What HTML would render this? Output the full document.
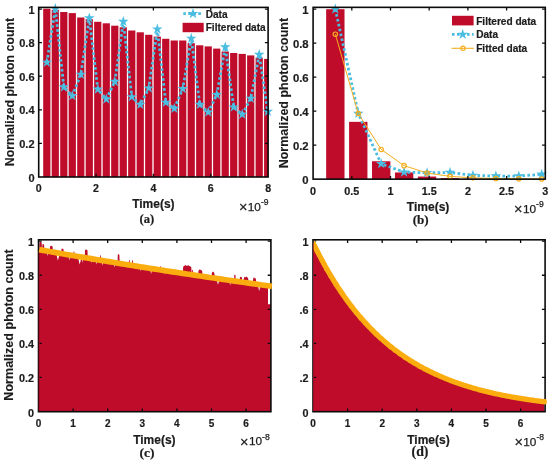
<!DOCTYPE html>
<html lang="en"><head><meta charset="utf-8"><title>Figure</title>
<style>html,body{margin:0;padding:0;background:#fff;}svg{display:block;}</style></head><body>
<svg width="550" height="461" viewBox="0 0 550 461">
<rect width="550" height="461" fill="#ffffff"/>
<clipPath id="ca"><rect x="38.7" y="7.4" width="229.40" height="169.60"/></clipPath>
<g clip-path="url(#ca)">
<rect x="43.19" y="8.70" width="7.22" height="168.30" fill="#BF0C2B"/>
<rect x="51.68" y="9.80" width="7.22" height="167.20" fill="#BF0C2B"/>
<rect x="60.18" y="12.00" width="7.22" height="165.00" fill="#BF0C2B"/>
<rect x="68.67" y="13.10" width="7.22" height="163.90" fill="#BF0C2B"/>
<rect x="77.17" y="17.50" width="7.22" height="159.50" fill="#BF0C2B"/>
<rect x="85.67" y="19.20" width="7.22" height="157.80" fill="#BF0C2B"/>
<rect x="94.16" y="21.80" width="7.22" height="155.20" fill="#BF0C2B"/>
<rect x="102.66" y="23.30" width="7.22" height="153.70" fill="#BF0C2B"/>
<rect x="111.16" y="25.70" width="7.22" height="151.30" fill="#BF0C2B"/>
<rect x="119.65" y="27.30" width="7.22" height="149.70" fill="#BF0C2B"/>
<rect x="128.15" y="30.50" width="7.22" height="146.50" fill="#BF0C2B"/>
<rect x="136.64" y="32.30" width="7.22" height="144.70" fill="#BF0C2B"/>
<rect x="145.14" y="34.80" width="7.22" height="142.20" fill="#BF0C2B"/>
<rect x="153.64" y="36.60" width="7.22" height="140.40" fill="#BF0C2B"/>
<rect x="162.13" y="38.80" width="7.22" height="138.20" fill="#BF0C2B"/>
<rect x="170.63" y="40.50" width="7.22" height="136.50" fill="#BF0C2B"/>
<rect x="179.13" y="40.50" width="7.22" height="136.50" fill="#BF0C2B"/>
<rect x="187.62" y="43.20" width="7.22" height="133.80" fill="#BF0C2B"/>
<rect x="196.12" y="45.30" width="7.22" height="131.70" fill="#BF0C2B"/>
<rect x="204.62" y="46.40" width="7.22" height="130.60" fill="#BF0C2B"/>
<rect x="213.11" y="48.60" width="7.22" height="128.40" fill="#BF0C2B"/>
<rect x="221.61" y="51.50" width="7.22" height="125.50" fill="#BF0C2B"/>
<rect x="230.10" y="53.00" width="7.22" height="124.00" fill="#BF0C2B"/>
<rect x="238.60" y="53.90" width="7.22" height="123.10" fill="#BF0C2B"/>
<rect x="247.10" y="55.40" width="7.22" height="121.60" fill="#BF0C2B"/>
<rect x="255.59" y="57.60" width="7.22" height="119.40" fill="#BF0C2B"/>
<rect x="264.09" y="58.90" width="7.22" height="118.10" fill="#BF0C2B"/>
</g>
<polyline points="46.85,62.40 55.34,8.70 63.84,87.10 72.34,95.80 80.83,74.40 89.33,18.00 97.82,89.30 106.32,99.10 114.82,81.60 123.31,21.50 131.81,96.90 140.31,104.50 148.80,88.20 157.30,29.20 165.79,102.40 174.29,108.50 182.79,88.80 191.28,38.40 199.78,104.50 208.28,112.20 216.77,94.70 225.27,47.10 233.76,107.20 242.26,114.40 250.76,98.40 259.25,54.60 267.75,111.50" fill="none" stroke="#4ABDE0" stroke-width="2.8" stroke-dasharray="2.6 2.4"/>
<path d="M46.85,56.80 L48.10,60.67 L52.17,60.67 L48.88,63.06 L50.14,66.93 L46.85,64.54 L43.55,66.93 L44.81,63.06 L41.52,60.67 L45.59,60.67ZM55.34,3.10 L56.60,6.97 L60.67,6.97 L57.38,9.36 L58.63,13.23 L55.34,10.84 L52.05,13.23 L53.31,9.36 L50.02,6.97 L54.09,6.97ZM63.84,81.50 L65.10,85.37 L69.16,85.37 L65.87,87.76 L67.13,91.63 L63.84,89.24 L60.55,91.63 L61.80,87.76 L58.51,85.37 L62.58,85.37ZM72.34,90.20 L73.59,94.07 L77.66,94.07 L74.37,96.46 L75.63,100.33 L72.34,97.94 L69.04,100.33 L70.30,96.46 L67.01,94.07 L71.08,94.07ZM80.83,68.80 L82.09,72.67 L86.16,72.67 L82.87,75.06 L84.12,78.93 L80.83,76.54 L77.54,78.93 L78.80,75.06 L75.51,72.67 L79.57,72.67ZM89.33,12.40 L90.59,16.27 L94.65,16.27 L91.36,18.66 L92.62,22.53 L89.33,20.14 L86.04,22.53 L87.29,18.66 L84.00,16.27 L88.07,16.27ZM97.82,83.70 L99.08,87.57 L103.15,87.57 L99.86,89.96 L101.12,93.83 L97.82,91.44 L94.53,93.83 L95.79,89.96 L92.50,87.57 L96.57,87.57ZM106.32,93.50 L107.58,97.37 L111.65,97.37 L108.35,99.76 L109.61,103.63 L106.32,101.24 L103.03,103.63 L104.29,99.76 L100.99,97.37 L105.06,97.37ZM114.82,76.00 L116.07,79.87 L120.14,79.87 L116.85,82.26 L118.11,86.13 L114.82,83.74 L111.53,86.13 L112.78,82.26 L109.49,79.87 L113.56,79.87ZM123.31,15.90 L124.57,19.77 L128.64,19.77 L125.35,22.16 L126.60,26.03 L123.31,23.64 L120.02,26.03 L121.28,22.16 L117.99,19.77 L122.06,19.77ZM131.81,91.30 L133.07,95.17 L137.14,95.17 L133.84,97.56 L135.10,101.43 L131.81,99.04 L128.52,101.43 L129.77,97.56 L126.48,95.17 L130.55,95.17ZM140.31,98.90 L141.56,102.77 L145.63,102.77 L142.34,105.16 L143.60,109.03 L140.31,106.64 L137.01,109.03 L138.27,105.16 L134.98,102.77 L139.05,102.77ZM148.80,82.60 L150.06,86.47 L154.13,86.47 L150.84,88.86 L152.09,92.73 L148.80,90.34 L145.51,92.73 L146.77,88.86 L143.48,86.47 L147.54,86.47ZM157.30,23.60 L158.56,27.47 L162.62,27.47 L159.33,29.86 L160.59,33.73 L157.30,31.34 L154.01,33.73 L155.26,29.86 L151.97,27.47 L156.04,27.47ZM165.79,96.80 L167.05,100.67 L171.12,100.67 L167.83,103.06 L169.09,106.93 L165.79,104.54 L162.50,106.93 L163.76,103.06 L160.47,100.67 L164.54,100.67ZM174.29,102.90 L175.55,106.77 L179.62,106.77 L176.33,109.16 L177.58,113.03 L174.29,110.64 L171.00,113.03 L172.26,109.16 L168.96,106.77 L173.03,106.77ZM182.79,83.20 L184.04,87.07 L188.11,87.07 L184.82,89.46 L186.08,93.33 L182.79,90.94 L179.50,93.33 L180.75,89.46 L177.46,87.07 L181.53,87.07ZM191.28,32.80 L192.54,36.67 L196.61,36.67 L193.32,39.06 L194.57,42.93 L191.28,40.54 L187.99,42.93 L189.25,39.06 L185.96,36.67 L190.03,36.67ZM199.78,98.90 L201.04,102.77 L205.11,102.77 L201.81,105.16 L203.07,109.03 L199.78,106.64 L196.49,109.03 L197.75,105.16 L194.45,102.77 L198.52,102.77ZM208.28,106.60 L209.53,110.47 L213.60,110.47 L210.31,112.86 L211.57,116.73 L208.28,114.34 L204.98,116.73 L206.24,112.86 L202.95,110.47 L207.02,110.47ZM216.77,89.10 L218.03,92.97 L222.10,92.97 L218.81,95.36 L220.06,99.23 L216.77,96.84 L213.48,99.23 L214.74,95.36 L211.45,92.97 L215.51,92.97ZM225.27,41.50 L226.53,45.37 L230.59,45.37 L227.30,47.76 L228.56,51.63 L225.27,49.24 L221.98,51.63 L223.23,47.76 L219.94,45.37 L224.01,45.37ZM233.76,101.60 L235.02,105.47 L239.09,105.47 L235.80,107.86 L237.06,111.73 L233.76,109.34 L230.47,111.73 L231.73,107.86 L228.44,105.47 L232.51,105.47ZM242.26,108.80 L243.52,112.67 L247.59,112.67 L244.30,115.06 L245.55,118.93 L242.26,116.54 L238.97,118.93 L240.23,115.06 L236.94,112.67 L241.00,112.67ZM250.76,92.80 L252.01,96.67 L256.08,96.67 L252.79,99.06 L254.05,102.93 L250.76,100.54 L247.47,102.93 L248.72,99.06 L245.43,96.67 L249.50,96.67ZM259.25,49.00 L260.51,52.87 L264.58,52.87 L261.29,55.26 L262.55,59.13 L259.25,56.74 L255.96,59.13 L257.22,55.26 L253.93,52.87 L258.00,52.87ZM267.75,105.90 L269.01,109.77 L273.08,109.77 L269.78,112.16 L271.04,116.03 L267.75,113.64 L264.46,116.03 L265.72,112.16 L262.42,109.77 L266.49,109.77Z" fill="#4ABDE0"/>
<rect x="38.7" y="7.4" width="229.40" height="169.60" fill="none" stroke="#0a0a0a" stroke-width="1.6"/>
<path d="M96.05,177.0v-3.2M96.05,7.4v3.2M153.40,177.0v-3.2M153.40,7.4v3.2M210.75,177.0v-3.2M210.75,7.4v3.2M38.7,143.34h3.2M268.1,143.34h-3.2M38.7,109.78h3.2M268.1,109.78h-3.2M38.7,76.22h3.2M268.1,76.22h-3.2M38.7,42.66h3.2M268.1,42.66h-3.2M38.7,9.10h3.2M268.1,9.10h-3.2" stroke="#0a0a0a" stroke-width="1.3" fill="none"/>
<text x="34.50" y="181.50" font-family='"Liberation Sans", Arial, Helvetica, sans-serif' font-size="11" font-weight="bold" text-anchor="end" fill="#1c1c1c" stroke="#1c1c1c" stroke-width="0.2" >0</text>
<text x="34.50" y="147.94" font-family='"Liberation Sans", Arial, Helvetica, sans-serif' font-size="11" font-weight="bold" text-anchor="end" fill="#1c1c1c" stroke="#1c1c1c" stroke-width="0.2" >0.2</text>
<text x="34.50" y="114.38" font-family='"Liberation Sans", Arial, Helvetica, sans-serif' font-size="11" font-weight="bold" text-anchor="end" fill="#1c1c1c" stroke="#1c1c1c" stroke-width="0.2" >0.4</text>
<text x="34.50" y="80.82" font-family='"Liberation Sans", Arial, Helvetica, sans-serif' font-size="11" font-weight="bold" text-anchor="end" fill="#1c1c1c" stroke="#1c1c1c" stroke-width="0.2" >0.6</text>
<text x="34.50" y="47.26" font-family='"Liberation Sans", Arial, Helvetica, sans-serif' font-size="11" font-weight="bold" text-anchor="end" fill="#1c1c1c" stroke="#1c1c1c" stroke-width="0.2" >0.8</text>
<text x="34.50" y="13.70" font-family='"Liberation Sans", Arial, Helvetica, sans-serif' font-size="11" font-weight="bold" text-anchor="end" fill="#1c1c1c" stroke="#1c1c1c" stroke-width="0.2" >1</text>
<text x="38.70" y="192.30" font-family='"Liberation Sans", Arial, Helvetica, sans-serif' font-size="10.6" font-weight="bold" text-anchor="middle" fill="#1c1c1c" stroke="#1c1c1c" stroke-width="0.2" >0</text>
<text x="96.05" y="192.30" font-family='"Liberation Sans", Arial, Helvetica, sans-serif' font-size="10.6" font-weight="bold" text-anchor="middle" fill="#1c1c1c" stroke="#1c1c1c" stroke-width="0.2" >2</text>
<text x="153.40" y="192.30" font-family='"Liberation Sans", Arial, Helvetica, sans-serif' font-size="10.6" font-weight="bold" text-anchor="middle" fill="#1c1c1c" stroke="#1c1c1c" stroke-width="0.2" >4</text>
<text x="210.75" y="192.30" font-family='"Liberation Sans", Arial, Helvetica, sans-serif' font-size="10.6" font-weight="bold" text-anchor="middle" fill="#1c1c1c" stroke="#1c1c1c" stroke-width="0.2" >6</text>
<text x="268.10" y="192.30" font-family='"Liberation Sans", Arial, Helvetica, sans-serif' font-size="10.6" font-weight="bold" text-anchor="middle" fill="#1c1c1c" stroke="#1c1c1c" stroke-width="0.2" >8</text>
<text x="153.40" y="208.20" font-family='"Liberation Sans", Arial, Helvetica, sans-serif' font-size="12" font-weight="bold" text-anchor="middle" fill="#1c1c1c" stroke="#1c1c1c" stroke-width="0.2" >Time(s)</text>
<text x="268.60" y="210.60" font-family='"Liberation Sans", Arial, Helvetica, sans-serif' text-anchor="end" fill="#1c1c1c" stroke="#1c1c1c" stroke-width="0.25"><tspan font-size="14.5" dy="1.5">×</tspan><tspan font-size="11.8" dy="-1.5" dx="0.4">10</tspan><tspan dy="-5.4" font-size="8.6">-9</tspan></text>
<text x="146.90" y="223.40" font-family='"Liberation Serif", "Times New Roman", serif' font-size="12.6" font-weight="bold" text-anchor="middle" fill="#1c1c1c" stroke="#1c1c1c" stroke-width="0.2" >(a)</text>
<text transform="translate(14.00,92.10) rotate(-90)" font-family='"Liberation Sans", Arial, Helvetica, sans-serif' font-size="12.3" font-weight="bold" text-anchor="middle" fill="#1c1c1c" stroke="#1c1c1c" stroke-width="0.1">Normalized photon count</text>
<path d="M183.3,13.7H202.4" stroke="#4ABDE0" stroke-width="2.8" stroke-dasharray="2.6 2.4" fill="none"/>
<path d="M193.00,8.10 L194.26,11.97 L198.33,11.97 L195.03,14.36 L196.29,18.23 L193.00,15.84 L189.71,18.23 L190.97,14.36 L187.67,11.97 L191.74,11.97Z" fill="#4ABDE0"/>
<text x="205.70" y="17.80" font-family='"Liberation Sans", Arial, Helvetica, sans-serif' font-size="10.1" font-weight="bold" text-anchor="start" fill="#1c1c1c" stroke="#1c1c1c" stroke-width="0.2" >Data</text>
<rect x="182.6" y="22.8" width="21.1" height="9.4" fill="#BF0C2B"/>
<text x="205.70" y="31.00" font-family='"Liberation Sans", Arial, Helvetica, sans-serif' font-size="10.1" font-weight="bold" text-anchor="start" fill="#1c1c1c" stroke="#1c1c1c" stroke-width="0.2" >Filtered data</text>
<clipPath id="cb"><rect x="313.1" y="7.35" width="232.20" height="171.80"/></clipPath>
<g clip-path="url(#cb)">
<rect x="326.16" y="9.20" width="18.35" height="169.95" fill="#BF0C2B"/>
<rect x="349.09" y="121.84" width="18.35" height="57.31" fill="#BF0C2B"/>
<rect x="372.03" y="161.26" width="18.35" height="17.89" fill="#BF0C2B"/>
<rect x="394.96" y="172.47" width="18.35" height="6.68" fill="#BF0C2B"/>
<rect x="417.89" y="176.55" width="18.35" height="2.60" fill="#BF0C2B"/>
<rect x="440.83" y="178.08" width="18.35" height="1.07" fill="#BF0C2B"/>
<rect x="463.76" y="178.76" width="18.35" height="0.39" fill="#BF0C2B"/>
</g>
<polyline points="335.33,9.20 358.27,113.52 381.20,163.81 404.13,172.13 427.07,172.81 450.00,172.47 472.93,175.36 495.87,176.04 518.80,176.04 541.73,174.34" fill="none" stroke="#4ABDE0" stroke-width="2.8" stroke-dasharray="2.6 2.4"/>
<path d="M335.33,3.60 L336.59,7.47 L340.66,7.47 L337.37,9.86 L338.62,13.73 L335.33,11.34 L332.04,13.73 L333.30,9.86 L330.01,7.47 L334.08,7.47ZM358.27,107.92 L359.52,111.79 L363.59,111.79 L360.30,114.18 L361.56,118.05 L358.27,115.66 L354.98,118.05 L356.23,114.18 L352.94,111.79 L357.01,111.79ZM381.20,158.21 L382.46,162.08 L386.53,162.08 L383.23,164.47 L384.49,168.34 L381.20,165.95 L377.91,168.34 L379.17,164.47 L375.87,162.08 L379.94,162.08ZM404.13,166.53 L405.39,170.40 L409.46,170.40 L406.17,172.80 L407.42,176.66 L404.13,174.27 L400.84,176.66 L402.10,172.80 L398.81,170.40 L402.88,170.40ZM427.07,167.21 L428.32,171.08 L432.39,171.08 L429.10,173.47 L430.36,177.34 L427.07,174.95 L423.78,177.34 L425.03,173.47 L421.74,171.08 L425.81,171.08ZM450.00,166.87 L451.26,170.74 L455.33,170.74 L452.03,173.13 L453.29,177.00 L450.00,174.61 L446.71,177.00 L447.97,173.13 L444.67,170.74 L448.74,170.74ZM472.93,169.76 L474.19,173.63 L478.26,173.63 L474.97,176.02 L476.22,179.89 L472.93,177.50 L469.64,179.89 L470.90,176.02 L467.61,173.63 L471.68,173.63ZM495.87,170.44 L497.12,174.31 L501.19,174.31 L497.90,176.70 L499.16,180.57 L495.87,178.18 L492.58,180.57 L493.83,176.70 L490.54,174.31 L494.61,174.31ZM518.80,170.44 L520.06,174.31 L524.13,174.31 L520.83,176.70 L522.09,180.57 L518.80,178.18 L515.51,180.57 L516.77,176.70 L513.47,174.31 L517.54,174.31ZM541.73,168.74 L542.99,172.61 L547.06,172.61 L543.77,175.00 L545.02,178.87 L541.73,176.48 L538.44,178.87 L539.70,175.00 L536.41,172.61 L540.48,172.61Z" fill="#4ABDE0"/>
<polyline points="335.33,34.18 358.27,113.52 381.20,149.43 404.13,165.67 427.07,173.02 450.00,176.35 472.93,177.86 495.87,178.54 518.80,178.85 541.73,178.98" fill="none" stroke="#F5AE1E" stroke-width="1.0"/>
<circle cx="335.33" cy="34.18" r="2.2" fill="none" stroke="#F5AE1E" stroke-width="1.2"/>
<circle cx="358.27" cy="113.52" r="2.2" fill="none" stroke="#F5AE1E" stroke-width="1.2"/>
<circle cx="381.20" cy="149.43" r="2.2" fill="none" stroke="#F5AE1E" stroke-width="1.2"/>
<circle cx="404.13" cy="165.67" r="2.2" fill="none" stroke="#F5AE1E" stroke-width="1.2"/>
<circle cx="427.07" cy="173.02" r="2.2" fill="none" stroke="#F5AE1E" stroke-width="1.2"/>
<circle cx="450.00" cy="176.35" r="2.2" fill="none" stroke="#F5AE1E" stroke-width="1.2"/>
<circle cx="472.93" cy="177.86" r="2.2" fill="none" stroke="#F5AE1E" stroke-width="1.2"/>
<circle cx="495.87" cy="178.54" r="2.2" fill="none" stroke="#F5AE1E" stroke-width="1.2"/>
<circle cx="518.80" cy="178.85" r="2.2" fill="none" stroke="#F5AE1E" stroke-width="1.2"/>
<circle cx="541.73" cy="178.98" r="2.2" fill="none" stroke="#F5AE1E" stroke-width="1.2"/>
<rect x="313.1" y="7.35" width="232.20" height="171.80" fill="none" stroke="#0a0a0a" stroke-width="1.6"/>
<path d="M351.80,179.15v-3.2M351.80,7.35v3.2M390.50,179.15v-3.2M390.50,7.35v3.2M429.20,179.15v-3.2M429.20,7.35v3.2M467.90,179.15v-3.2M467.90,7.35v3.2M506.60,179.15v-3.2M506.60,7.35v3.2M313.1,145.12h3.2M545.3,145.12h-3.2M313.1,111.14h3.2M545.3,111.14h-3.2M313.1,77.16h3.2M545.3,77.16h-3.2M313.1,43.18h3.2M545.3,43.18h-3.2M313.1,9.20h3.2M545.3,9.20h-3.2" stroke="#0a0a0a" stroke-width="1.3" fill="none"/>
<text x="308.60" y="183.90" font-family='"Liberation Sans", Arial, Helvetica, sans-serif' font-size="11.3" font-weight="bold" text-anchor="end" fill="#1c1c1c" stroke="#1c1c1c" stroke-width="0.2" >0</text>
<text x="308.60" y="149.92" font-family='"Liberation Sans", Arial, Helvetica, sans-serif' font-size="11.3" font-weight="bold" text-anchor="end" fill="#1c1c1c" stroke="#1c1c1c" stroke-width="0.2" >0.2</text>
<text x="308.60" y="115.94" font-family='"Liberation Sans", Arial, Helvetica, sans-serif' font-size="11.3" font-weight="bold" text-anchor="end" fill="#1c1c1c" stroke="#1c1c1c" stroke-width="0.2" >0.4</text>
<text x="308.60" y="81.96" font-family='"Liberation Sans", Arial, Helvetica, sans-serif' font-size="11.3" font-weight="bold" text-anchor="end" fill="#1c1c1c" stroke="#1c1c1c" stroke-width="0.2" >0.6</text>
<text x="308.60" y="47.98" font-family='"Liberation Sans", Arial, Helvetica, sans-serif' font-size="11.3" font-weight="bold" text-anchor="end" fill="#1c1c1c" stroke="#1c1c1c" stroke-width="0.2" >0.8</text>
<text x="308.60" y="14.00" font-family='"Liberation Sans", Arial, Helvetica, sans-serif' font-size="11.3" font-weight="bold" text-anchor="end" fill="#1c1c1c" stroke="#1c1c1c" stroke-width="0.2" >1</text>
<text x="313.10" y="194.60" font-family='"Liberation Sans", Arial, Helvetica, sans-serif' font-size="10.8" font-weight="bold" text-anchor="middle" fill="#1c1c1c" stroke="#1c1c1c" stroke-width="0.2" >0</text>
<text x="351.80" y="194.60" font-family='"Liberation Sans", Arial, Helvetica, sans-serif' font-size="10.8" font-weight="bold" text-anchor="middle" fill="#1c1c1c" stroke="#1c1c1c" stroke-width="0.2" >0.5</text>
<text x="390.50" y="194.60" font-family='"Liberation Sans", Arial, Helvetica, sans-serif' font-size="10.8" font-weight="bold" text-anchor="middle" fill="#1c1c1c" stroke="#1c1c1c" stroke-width="0.2" >1</text>
<text x="429.20" y="194.60" font-family='"Liberation Sans", Arial, Helvetica, sans-serif' font-size="10.8" font-weight="bold" text-anchor="middle" fill="#1c1c1c" stroke="#1c1c1c" stroke-width="0.2" >1.5</text>
<text x="467.90" y="194.60" font-family='"Liberation Sans", Arial, Helvetica, sans-serif' font-size="10.8" font-weight="bold" text-anchor="middle" fill="#1c1c1c" stroke="#1c1c1c" stroke-width="0.2" >2</text>
<text x="506.60" y="194.60" font-family='"Liberation Sans", Arial, Helvetica, sans-serif' font-size="10.8" font-weight="bold" text-anchor="middle" fill="#1c1c1c" stroke="#1c1c1c" stroke-width="0.2" >2.5</text>
<text x="545.30" y="194.60" font-family='"Liberation Sans", Arial, Helvetica, sans-serif' font-size="10.8" font-weight="bold" text-anchor="middle" fill="#1c1c1c" stroke="#1c1c1c" stroke-width="0.2" >3</text>
<text x="428.10" y="211.30" font-family='"Liberation Sans", Arial, Helvetica, sans-serif' font-size="12" font-weight="bold" text-anchor="middle" fill="#1c1c1c" stroke="#1c1c1c" stroke-width="0.2" >Time(s)</text>
<text x="543.70" y="212.70" font-family='"Liberation Sans", Arial, Helvetica, sans-serif' text-anchor="end" fill="#1c1c1c" stroke="#1c1c1c" stroke-width="0.25"><tspan font-size="14.5" dy="1.5">×</tspan><tspan font-size="11.8" dy="-1.5" dx="0.4">10</tspan><tspan dy="-5.4" font-size="8.6">-9</tspan></text>
<text x="420.70" y="223.70" font-family='"Liberation Serif", "Times New Roman", serif' font-size="13.1" font-weight="bold" text-anchor="middle" fill="#1c1c1c" stroke="#1c1c1c" stroke-width="0.2" >(b)</text>
<text transform="translate(288.00,93.10) rotate(-90)" font-family='"Liberation Sans", Arial, Helvetica, sans-serif' font-size="12.47" font-weight="bold" text-anchor="middle" fill="#1c1c1c" stroke="#1c1c1c" stroke-width="0.1">Normalized photon count</text>
<rect x="452" y="15.8" width="21.6" height="9.6" fill="#BF0C2B"/>
<text x="476.20" y="24.90" font-family='"Liberation Sans", Arial, Helvetica, sans-serif' font-size="10.1" font-weight="bold" text-anchor="start" fill="#1c1c1c" stroke="#1c1c1c" stroke-width="0.2" >Filtered data</text>
<path d="M452,34.4H473.6" stroke="#4ABDE0" stroke-width="2.8" stroke-dasharray="2.6 2.4" fill="none"/>
<path d="M462.70,28.80 L463.96,32.67 L468.03,32.67 L464.73,35.06 L465.99,38.93 L462.70,36.54 L459.41,38.93 L460.67,35.06 L457.37,32.67 L461.44,32.67Z" fill="#4ABDE0"/>
<text x="476.20" y="38.30" font-family='"Liberation Sans", Arial, Helvetica, sans-serif' font-size="10.1" font-weight="bold" text-anchor="start" fill="#1c1c1c" stroke="#1c1c1c" stroke-width="0.2" >Data</text>
<path d="M451.5,48.3H473.9" stroke="#F5AE1E" stroke-width="1.1" fill="none"/>
<circle cx="463" cy="48.3" r="2.1" fill="none" stroke="#F5AE1E" stroke-width="1.2"/>
<text x="476.20" y="51.80" font-family='"Liberation Sans", Arial, Helvetica, sans-serif' font-size="10.1" font-weight="bold" text-anchor="start" fill="#1c1c1c" stroke="#1c1c1c" stroke-width="0.2" >Fitted data</text>
<path d="M38.5,411.7L38.5,249.54L39.25,249.68L39.50,242.20L40.60,241.60L41.70,242.40L41.95,250.16L42.15,250.20L42.40,244.50L43.25,243.90L44.10,244.70L44.35,250.59L46.50,250.97L47.40,256.10L48.30,251.29L49.85,251.56L50.10,246.30L51.35,245.70L52.60,246.50L52.85,252.09L56.00,252.64L57.90,260.50L59.80,253.31L61.25,253.56L61.50,249.00L62.50,248.40L63.50,249.20L63.75,254.00L68.70,254.85L69.60,260.50L70.50,255.16L73.35,255.66L73.60,251.90L74.00,251.30L74.40,252.10L74.65,255.88L77.80,256.42L79.70,264.50L81.60,257.07L81.90,257.12L82.75,262.70L83.60,257.41L84.75,257.60L85.00,250.10L86.25,249.50L87.50,250.30L87.75,258.11L90.60,258.59L91.45,263.00L92.30,258.88L95.80,259.47L96.65,264.60L97.50,259.75L99.75,260.13L100.00,255.70L100.40,255.10L100.80,255.90L101.05,260.35L101.70,260.46L102.55,265.70L103.40,260.74L113.70,262.44L114.55,267.50L115.40,262.72L117.55,263.07L117.80,254.70L118.60,254.10L119.40,254.90L119.65,263.42L128.75,264.90L129.00,260.60L129.40,260.00L129.80,260.80L130.05,265.11L131.95,265.41L132.20,260.60L132.60,260.00L133.00,260.80L133.25,265.62L139.50,266.63L140.40,271.30L141.30,266.91L150.10,268.31L151.10,274.00L152.10,268.63L159.95,269.86L160.20,266.60L160.60,266.00L161.00,266.80L161.25,270.06L164.30,270.54L165.10,274.50L165.90,270.79L182.75,273.38L183.15,266.70L185.45,265.10L186.80,266.00L188.15,265.20L191.25,266.90L191.75,274.74L191.95,274.77L192.20,270.20L192.60,269.60L193.00,270.40L193.25,274.97L198.05,275.69L198.45,270.90L199.43,269.30L200.12,270.20L200.81,269.40L202.15,271.10L202.65,276.38L211.45,277.69L211.85,273.10L212.47,271.50L212.98,272.40L213.49,271.60L214.35,273.30L214.85,278.19L216.40,278.41L218.00,284.70L219.60,278.88L229.30,280.30L230.10,285.70L230.90,280.53L234.05,280.98L234.30,275.10L234.90,274.50L235.50,275.30L235.75,281.23L239.65,281.79L239.90,277.30L240.90,276.70L241.90,277.50L242.15,282.14L243.45,282.33L243.85,278.10L245.01,276.50L245.79,277.40L246.57,276.60L248.15,278.30L248.65,283.07L252.75,283.65L253.15,278.90L253.83,277.30L254.37,278.20L254.91,277.40L255.85,279.10L256.35,284.15L257.80,284.36L259.15,291.30L260.50,284.74L268.0,285.78L268.0,304.21L270.8,304.21L270.8,411.7Z" fill="#BF0C2B"/>
<rect x="38.5" y="239.8" width="232.40" height="171.90" fill="none" stroke="#0a0a0a" stroke-width="1.6"/>
<path d="M73.10,411.7v-3.2M73.10,239.8v3.2M107.70,411.7v-3.2M107.70,239.8v3.2M142.30,411.7v-3.2M142.30,239.8v3.2M176.90,411.7v-3.2M176.90,239.8v3.2M211.50,411.7v-3.2M211.50,239.8v3.2M246.10,411.7v-3.2M246.10,239.8v3.2M38.5,377.44h3.2M270.9,377.44h-3.2M38.5,343.38h3.2M270.9,343.38h-3.2M38.5,309.32h3.2M270.9,309.32h-3.2M38.5,275.26h3.2M270.9,275.26h-3.2M38.5,241.20h3.2M270.9,241.20h-3.2" stroke="#0a0a0a" stroke-width="1.3" fill="none"/>
<rect x="38.75" y="250" width="0.8" height="160.90" fill="#BF0C2B"/>
<polyline points="39.20,249.67 43.08,250.36 46.96,251.05 50.84,251.73 54.71,252.42 58.59,253.10 62.47,253.77 66.35,254.45 70.23,255.12 74.10,255.78 77.98,256.45 81.86,257.11 85.74,257.77 89.62,258.43 93.50,259.08 97.38,259.73 101.25,260.38 105.13,261.03 109.01,261.67 112.89,262.31 116.77,262.95 120.64,263.58 124.52,264.21 128.40,264.84 132.28,265.47 136.16,266.09 140.04,266.71 143.91,267.33 147.79,267.95 151.67,268.56 155.55,269.17 159.43,269.78 163.31,270.38 167.19,270.99 171.06,271.59 174.94,272.18 178.82,272.78 182.70,273.37 186.58,273.96 190.45,274.55 194.33,275.13 198.21,275.72 202.09,276.30 205.97,276.87 209.85,277.45 213.73,278.02 217.60,278.59 221.48,279.16 225.36,279.72 229.24,280.29 233.12,280.85 237.00,281.40 240.87,281.96 244.75,282.51 248.63,283.06 252.51,283.61 256.39,284.16 260.26,284.70 264.14,285.24 268.02,285.78 271.90,286.32" fill="none" stroke="#FBAD10" stroke-width="5.7"/>
<text x="34.00" y="416.50" font-family='"Liberation Sans", Arial, Helvetica, sans-serif' font-size="10.8" font-weight="bold" text-anchor="end" fill="#1c1c1c" stroke="#1c1c1c" stroke-width="0.2" >0</text>
<text x="34.00" y="382.44" font-family='"Liberation Sans", Arial, Helvetica, sans-serif' font-size="10.8" font-weight="bold" text-anchor="end" fill="#1c1c1c" stroke="#1c1c1c" stroke-width="0.2" >0.2</text>
<text x="34.00" y="348.38" font-family='"Liberation Sans", Arial, Helvetica, sans-serif' font-size="10.8" font-weight="bold" text-anchor="end" fill="#1c1c1c" stroke="#1c1c1c" stroke-width="0.2" >0.4</text>
<text x="34.00" y="314.32" font-family='"Liberation Sans", Arial, Helvetica, sans-serif' font-size="10.8" font-weight="bold" text-anchor="end" fill="#1c1c1c" stroke="#1c1c1c" stroke-width="0.2" >0.6</text>
<text x="34.00" y="280.26" font-family='"Liberation Sans", Arial, Helvetica, sans-serif' font-size="10.8" font-weight="bold" text-anchor="end" fill="#1c1c1c" stroke="#1c1c1c" stroke-width="0.2" >0.8</text>
<text x="34.00" y="246.20" font-family='"Liberation Sans", Arial, Helvetica, sans-serif' font-size="10.8" font-weight="bold" text-anchor="end" fill="#1c1c1c" stroke="#1c1c1c" stroke-width="0.2" >1</text>
<text x="38.50" y="427.20" font-family='"Liberation Sans", Arial, Helvetica, sans-serif' font-size="10" font-weight="bold" text-anchor="middle" fill="#1c1c1c" stroke="#1c1c1c" stroke-width="0.2" >0</text>
<text x="73.10" y="427.20" font-family='"Liberation Sans", Arial, Helvetica, sans-serif' font-size="10" font-weight="bold" text-anchor="middle" fill="#1c1c1c" stroke="#1c1c1c" stroke-width="0.2" >1</text>
<text x="107.70" y="427.20" font-family='"Liberation Sans", Arial, Helvetica, sans-serif' font-size="10" font-weight="bold" text-anchor="middle" fill="#1c1c1c" stroke="#1c1c1c" stroke-width="0.2" >2</text>
<text x="142.30" y="427.20" font-family='"Liberation Sans", Arial, Helvetica, sans-serif' font-size="10" font-weight="bold" text-anchor="middle" fill="#1c1c1c" stroke="#1c1c1c" stroke-width="0.2" >3</text>
<text x="176.90" y="427.20" font-family='"Liberation Sans", Arial, Helvetica, sans-serif' font-size="10" font-weight="bold" text-anchor="middle" fill="#1c1c1c" stroke="#1c1c1c" stroke-width="0.2" >4</text>
<text x="211.50" y="427.20" font-family='"Liberation Sans", Arial, Helvetica, sans-serif' font-size="10" font-weight="bold" text-anchor="middle" fill="#1c1c1c" stroke="#1c1c1c" stroke-width="0.2" >5</text>
<text x="246.10" y="427.20" font-family='"Liberation Sans", Arial, Helvetica, sans-serif' font-size="10" font-weight="bold" text-anchor="middle" fill="#1c1c1c" stroke="#1c1c1c" stroke-width="0.2" >6</text>
<text x="154.40" y="443.60" font-family='"Liberation Sans", Arial, Helvetica, sans-serif' font-size="12" font-weight="bold" text-anchor="middle" fill="#1c1c1c" stroke="#1c1c1c" stroke-width="0.2" >Time(s)</text>
<text x="269.70" y="445.30" font-family='"Liberation Sans", Arial, Helvetica, sans-serif' text-anchor="end" fill="#1c1c1c" stroke="#1c1c1c" stroke-width="0.25"><tspan font-size="14.5" dy="1.5">×</tspan><tspan font-size="11.8" dy="-1.5" dx="0.4">10</tspan><tspan dy="-5.4" font-size="8.6">-8</tspan></text>
<text x="147.00" y="456.90" font-family='"Liberation Serif", "Times New Roman", serif' font-size="13.5" font-weight="bold" text-anchor="middle" fill="#1c1c1c" stroke="#1c1c1c" stroke-width="0.2" >(c)</text>
<text transform="translate(12.60,325.00) rotate(-90)" font-family='"Liberation Sans", Arial, Helvetica, sans-serif' font-size="12.55" font-weight="bold" text-anchor="middle" fill="#1c1c1c" stroke="#1c1c1c" stroke-width="0.1">Normalized photon count</text>
<path d="M313.0,411.7L313.60,243.81L315.15,246.97L316.69,250.08L318.24,253.13L319.79,256.12L321.33,259.05L322.88,261.93L324.43,264.75L325.97,267.53L327.52,270.24L329.07,272.91L330.61,275.53L332.16,278.10L333.71,280.61L335.25,283.09L336.80,285.51L338.35,287.89L339.89,290.22L341.44,292.51L342.99,294.76L344.53,296.96L346.08,299.13L347.63,301.25L349.17,303.33L350.72,305.37L352.27,307.38L353.81,309.34L355.36,311.27L356.91,313.16L358.45,315.02L360.00,316.84L361.55,318.63L363.09,320.38L364.64,322.10L366.19,323.79L367.73,325.45L369.28,327.07L370.83,328.67L372.37,330.23L373.92,331.77L375.47,333.27L377.01,334.75L378.56,336.20L380.11,337.62L381.65,339.01L383.20,340.38L384.75,341.73L386.29,343.04L387.84,344.34L389.39,345.60L390.93,346.85L392.48,348.07L394.03,349.27L395.57,350.44L397.12,351.59L398.67,352.73L400.21,353.84L401.76,354.92L403.31,355.99L404.85,357.04L406.40,358.07L407.95,359.08L409.49,360.07L411.04,361.04L412.59,361.99L414.13,362.93L415.68,363.84L417.23,364.74L418.77,365.63L420.32,366.49L421.87,367.34L423.41,368.18L424.96,368.99L426.51,369.80L428.05,370.58L429.60,371.36L431.15,372.11L432.69,372.86L434.24,373.59L435.79,374.30L437.33,375.01L438.88,375.70L440.43,376.37L441.97,377.03L443.52,377.69L445.07,378.32L446.61,378.95L448.16,379.56L449.71,380.17L451.25,380.76L452.80,381.34L454.35,381.91L455.89,382.47L457.44,383.02L458.99,383.55L460.53,384.08L462.08,384.60L463.63,385.11L465.17,385.61L466.72,386.09L468.27,386.57L469.81,387.05L471.36,387.51L472.91,387.96L474.45,388.40L476.00,388.84L477.55,389.27L479.09,389.69L480.64,390.10L482.19,390.50L483.73,390.90L485.28,391.29L486.83,391.67L488.37,392.05L489.92,392.41L491.47,392.77L493.01,393.13L494.56,393.47L496.11,393.81L497.65,394.15L499.20,394.48L500.75,394.80L502.29,395.11L503.84,395.42L505.39,395.73L506.93,396.02L508.48,396.32L510.03,396.60L511.57,396.88L513.12,397.16L514.67,397.43L516.21,397.70L517.76,397.96L519.31,398.21L520.85,398.46L522.40,398.71L523.95,398.95L525.49,399.19L527.04,399.42L528.59,399.65L530.13,399.87L531.68,400.09L533.23,400.31L534.77,400.52L536.32,400.73L537.87,400.93L539.41,401.13L540.96,401.32L542.51,401.52L544.05,401.71L545.60,401.89L544.4,401.75L544.4,411.7Z" fill="#BF0C2B"/>
<rect x="313.0" y="239.8" width="232.10" height="171.90" fill="none" stroke="#0a0a0a" stroke-width="1.6"/>
<path d="M347.60,411.7v-3.2M347.60,239.8v3.2M382.20,411.7v-3.2M382.20,239.8v3.2M416.80,411.7v-3.2M416.80,239.8v3.2M451.40,411.7v-3.2M451.40,239.8v3.2M486.00,411.7v-3.2M486.00,239.8v3.2M520.60,411.7v-3.2M520.60,239.8v3.2M313.0,377.44h3.2M545.1,377.44h-3.2M313.0,343.38h3.2M545.1,343.38h-3.2M313.0,309.32h3.2M545.1,309.32h-3.2M313.0,275.26h3.2M545.1,275.26h-3.2M313.0,241.20h3.2M545.1,241.20h-3.2" stroke="#0a0a0a" stroke-width="1.3" fill="none"/>
<clipPath id="cd"><rect x="313.7" y="240.5" width="233.10" height="171.90"/></clipPath>
<rect x="313.25" y="243.5" width="0.8" height="167.40" fill="#BF0C2B"/>
<path d="M311.40,243.19a1.9,1.9 0 1,0 3.8,0a1.9,1.9 0 1,0 -3.8,0M312.42,245.30a1.9,1.9 0 1,0 3.8,0a1.9,1.9 0 1,0 -3.8,0M313.45,247.38a1.9,1.9 0 1,0 3.8,0a1.9,1.9 0 1,0 -3.8,0M314.47,249.44a1.9,1.9 0 1,0 3.8,0a1.9,1.9 0 1,0 -3.8,0M315.49,251.47a1.9,1.9 0 1,0 3.8,0a1.9,1.9 0 1,0 -3.8,0M316.52,253.47a1.9,1.9 0 1,0 3.8,0a1.9,1.9 0 1,0 -3.8,0M317.54,255.45a1.9,1.9 0 1,0 3.8,0a1.9,1.9 0 1,0 -3.8,0M318.56,257.41a1.9,1.9 0 1,0 3.8,0a1.9,1.9 0 1,0 -3.8,0M319.59,259.34a1.9,1.9 0 1,0 3.8,0a1.9,1.9 0 1,0 -3.8,0M320.61,261.25a1.9,1.9 0 1,0 3.8,0a1.9,1.9 0 1,0 -3.8,0M321.63,263.13a1.9,1.9 0 1,0 3.8,0a1.9,1.9 0 1,0 -3.8,0M322.66,264.99a1.9,1.9 0 1,0 3.8,0a1.9,1.9 0 1,0 -3.8,0M323.68,266.83a1.9,1.9 0 1,0 3.8,0a1.9,1.9 0 1,0 -3.8,0M324.70,268.64a1.9,1.9 0 1,0 3.8,0a1.9,1.9 0 1,0 -3.8,0M325.73,270.43a1.9,1.9 0 1,0 3.8,0a1.9,1.9 0 1,0 -3.8,0M326.75,272.20a1.9,1.9 0 1,0 3.8,0a1.9,1.9 0 1,0 -3.8,0M327.78,273.95a1.9,1.9 0 1,0 3.8,0a1.9,1.9 0 1,0 -3.8,0M328.80,275.67a1.9,1.9 0 1,0 3.8,0a1.9,1.9 0 1,0 -3.8,0M329.82,277.37a1.9,1.9 0 1,0 3.8,0a1.9,1.9 0 1,0 -3.8,0M330.85,279.05a1.9,1.9 0 1,0 3.8,0a1.9,1.9 0 1,0 -3.8,0M331.87,280.72a1.9,1.9 0 1,0 3.8,0a1.9,1.9 0 1,0 -3.8,0M332.89,282.35a1.9,1.9 0 1,0 3.8,0a1.9,1.9 0 1,0 -3.8,0M333.92,283.97a1.9,1.9 0 1,0 3.8,0a1.9,1.9 0 1,0 -3.8,0M334.94,285.57a1.9,1.9 0 1,0 3.8,0a1.9,1.9 0 1,0 -3.8,0M335.96,287.15a1.9,1.9 0 1,0 3.8,0a1.9,1.9 0 1,0 -3.8,0M336.99,288.71a1.9,1.9 0 1,0 3.8,0a1.9,1.9 0 1,0 -3.8,0M338.01,290.25a1.9,1.9 0 1,0 3.8,0a1.9,1.9 0 1,0 -3.8,0M339.03,291.77a1.9,1.9 0 1,0 3.8,0a1.9,1.9 0 1,0 -3.8,0M340.06,293.27a1.9,1.9 0 1,0 3.8,0a1.9,1.9 0 1,0 -3.8,0M341.08,294.75a1.9,1.9 0 1,0 3.8,0a1.9,1.9 0 1,0 -3.8,0M342.10,296.21a1.9,1.9 0 1,0 3.8,0a1.9,1.9 0 1,0 -3.8,0M343.13,297.66a1.9,1.9 0 1,0 3.8,0a1.9,1.9 0 1,0 -3.8,0M344.15,299.09a1.9,1.9 0 1,0 3.8,0a1.9,1.9 0 1,0 -3.8,0M345.17,300.50a1.9,1.9 0 1,0 3.8,0a1.9,1.9 0 1,0 -3.8,0M346.20,301.89a1.9,1.9 0 1,0 3.8,0a1.9,1.9 0 1,0 -3.8,0M347.22,303.26a1.9,1.9 0 1,0 3.8,0a1.9,1.9 0 1,0 -3.8,0M348.24,304.62a1.9,1.9 0 1,0 3.8,0a1.9,1.9 0 1,0 -3.8,0M349.27,305.96a1.9,1.9 0 1,0 3.8,0a1.9,1.9 0 1,0 -3.8,0M350.29,307.28a1.9,1.9 0 1,0 3.8,0a1.9,1.9 0 1,0 -3.8,0M351.31,308.59a1.9,1.9 0 1,0 3.8,0a1.9,1.9 0 1,0 -3.8,0M352.34,309.88a1.9,1.9 0 1,0 3.8,0a1.9,1.9 0 1,0 -3.8,0M353.36,311.15a1.9,1.9 0 1,0 3.8,0a1.9,1.9 0 1,0 -3.8,0M354.38,312.41a1.9,1.9 0 1,0 3.8,0a1.9,1.9 0 1,0 -3.8,0M355.41,313.65a1.9,1.9 0 1,0 3.8,0a1.9,1.9 0 1,0 -3.8,0M356.43,314.88a1.9,1.9 0 1,0 3.8,0a1.9,1.9 0 1,0 -3.8,0M357.46,316.09a1.9,1.9 0 1,0 3.8,0a1.9,1.9 0 1,0 -3.8,0M358.48,317.28a1.9,1.9 0 1,0 3.8,0a1.9,1.9 0 1,0 -3.8,0M359.50,318.46a1.9,1.9 0 1,0 3.8,0a1.9,1.9 0 1,0 -3.8,0M360.53,319.63a1.9,1.9 0 1,0 3.8,0a1.9,1.9 0 1,0 -3.8,0M361.55,320.78a1.9,1.9 0 1,0 3.8,0a1.9,1.9 0 1,0 -3.8,0M362.57,321.92a1.9,1.9 0 1,0 3.8,0a1.9,1.9 0 1,0 -3.8,0M363.60,323.04a1.9,1.9 0 1,0 3.8,0a1.9,1.9 0 1,0 -3.8,0M364.62,324.15a1.9,1.9 0 1,0 3.8,0a1.9,1.9 0 1,0 -3.8,0M365.64,325.25a1.9,1.9 0 1,0 3.8,0a1.9,1.9 0 1,0 -3.8,0M366.67,326.33a1.9,1.9 0 1,0 3.8,0a1.9,1.9 0 1,0 -3.8,0M367.69,327.39a1.9,1.9 0 1,0 3.8,0a1.9,1.9 0 1,0 -3.8,0M368.71,328.45a1.9,1.9 0 1,0 3.8,0a1.9,1.9 0 1,0 -3.8,0M369.74,329.49a1.9,1.9 0 1,0 3.8,0a1.9,1.9 0 1,0 -3.8,0M370.76,330.52a1.9,1.9 0 1,0 3.8,0a1.9,1.9 0 1,0 -3.8,0M371.78,331.53a1.9,1.9 0 1,0 3.8,0a1.9,1.9 0 1,0 -3.8,0M372.81,332.54a1.9,1.9 0 1,0 3.8,0a1.9,1.9 0 1,0 -3.8,0M373.83,333.53a1.9,1.9 0 1,0 3.8,0a1.9,1.9 0 1,0 -3.8,0M374.85,334.50a1.9,1.9 0 1,0 3.8,0a1.9,1.9 0 1,0 -3.8,0M375.88,335.47a1.9,1.9 0 1,0 3.8,0a1.9,1.9 0 1,0 -3.8,0M376.90,336.42a1.9,1.9 0 1,0 3.8,0a1.9,1.9 0 1,0 -3.8,0M377.92,337.36a1.9,1.9 0 1,0 3.8,0a1.9,1.9 0 1,0 -3.8,0M378.95,338.29a1.9,1.9 0 1,0 3.8,0a1.9,1.9 0 1,0 -3.8,0M379.97,339.21a1.9,1.9 0 1,0 3.8,0a1.9,1.9 0 1,0 -3.8,0M380.99,340.11a1.9,1.9 0 1,0 3.8,0a1.9,1.9 0 1,0 -3.8,0M382.02,341.01a1.9,1.9 0 1,0 3.8,0a1.9,1.9 0 1,0 -3.8,0M383.04,341.89a1.9,1.9 0 1,0 3.8,0a1.9,1.9 0 1,0 -3.8,0M384.07,342.77a1.9,1.9 0 1,0 3.8,0a1.9,1.9 0 1,0 -3.8,0M385.09,343.63a1.9,1.9 0 1,0 3.8,0a1.9,1.9 0 1,0 -3.8,0M386.11,344.48a1.9,1.9 0 1,0 3.8,0a1.9,1.9 0 1,0 -3.8,0M387.14,345.32a1.9,1.9 0 1,0 3.8,0a1.9,1.9 0 1,0 -3.8,0M388.16,346.15a1.9,1.9 0 1,0 3.8,0a1.9,1.9 0 1,0 -3.8,0M389.18,346.97a1.9,1.9 0 1,0 3.8,0a1.9,1.9 0 1,0 -3.8,0M390.21,347.78a1.9,1.9 0 1,0 3.8,0a1.9,1.9 0 1,0 -3.8,0M391.23,348.57a1.9,1.9 0 1,0 3.8,0a1.9,1.9 0 1,0 -3.8,0M392.25,349.36a1.9,1.9 0 1,0 3.8,0a1.9,1.9 0 1,0 -3.8,0M393.28,350.14a1.9,1.9 0 1,0 3.8,0a1.9,1.9 0 1,0 -3.8,0M394.30,350.91a1.9,1.9 0 1,0 3.8,0a1.9,1.9 0 1,0 -3.8,0M395.32,351.67a1.9,1.9 0 1,0 3.8,0a1.9,1.9 0 1,0 -3.8,0M396.35,352.42a1.9,1.9 0 1,0 3.8,0a1.9,1.9 0 1,0 -3.8,0M397.37,353.16a1.9,1.9 0 1,0 3.8,0a1.9,1.9 0 1,0 -3.8,0M398.39,353.89a1.9,1.9 0 1,0 3.8,0a1.9,1.9 0 1,0 -3.8,0M399.42,354.61a1.9,1.9 0 1,0 3.8,0a1.9,1.9 0 1,0 -3.8,0M400.44,355.33a1.9,1.9 0 1,0 3.8,0a1.9,1.9 0 1,0 -3.8,0M401.46,356.03a1.9,1.9 0 1,0 3.8,0a1.9,1.9 0 1,0 -3.8,0M402.49,356.73a1.9,1.9 0 1,0 3.8,0a1.9,1.9 0 1,0 -3.8,0M403.51,357.41a1.9,1.9 0 1,0 3.8,0a1.9,1.9 0 1,0 -3.8,0M404.53,358.09a1.9,1.9 0 1,0 3.8,0a1.9,1.9 0 1,0 -3.8,0M405.56,358.76a1.9,1.9 0 1,0 3.8,0a1.9,1.9 0 1,0 -3.8,0M406.58,359.42a1.9,1.9 0 1,0 3.8,0a1.9,1.9 0 1,0 -3.8,0M407.60,360.07a1.9,1.9 0 1,0 3.8,0a1.9,1.9 0 1,0 -3.8,0M408.63,360.72a1.9,1.9 0 1,0 3.8,0a1.9,1.9 0 1,0 -3.8,0M409.65,361.36a1.9,1.9 0 1,0 3.8,0a1.9,1.9 0 1,0 -3.8,0M410.67,361.98a1.9,1.9 0 1,0 3.8,0a1.9,1.9 0 1,0 -3.8,0M411.70,362.61a1.9,1.9 0 1,0 3.8,0a1.9,1.9 0 1,0 -3.8,0M412.72,363.22a1.9,1.9 0 1,0 3.8,0a1.9,1.9 0 1,0 -3.8,0M413.75,363.82a1.9,1.9 0 1,0 3.8,0a1.9,1.9 0 1,0 -3.8,0M414.77,364.42a1.9,1.9 0 1,0 3.8,0a1.9,1.9 0 1,0 -3.8,0M415.79,365.01a1.9,1.9 0 1,0 3.8,0a1.9,1.9 0 1,0 -3.8,0M416.82,365.59a1.9,1.9 0 1,0 3.8,0a1.9,1.9 0 1,0 -3.8,0M417.84,366.17a1.9,1.9 0 1,0 3.8,0a1.9,1.9 0 1,0 -3.8,0M418.86,366.74a1.9,1.9 0 1,0 3.8,0a1.9,1.9 0 1,0 -3.8,0M419.89,367.30a1.9,1.9 0 1,0 3.8,0a1.9,1.9 0 1,0 -3.8,0M420.91,367.85a1.9,1.9 0 1,0 3.8,0a1.9,1.9 0 1,0 -3.8,0M421.93,368.40a1.9,1.9 0 1,0 3.8,0a1.9,1.9 0 1,0 -3.8,0M422.96,368.94a1.9,1.9 0 1,0 3.8,0a1.9,1.9 0 1,0 -3.8,0M423.98,369.47a1.9,1.9 0 1,0 3.8,0a1.9,1.9 0 1,0 -3.8,0M425.00,370.00a1.9,1.9 0 1,0 3.8,0a1.9,1.9 0 1,0 -3.8,0M426.03,370.52a1.9,1.9 0 1,0 3.8,0a1.9,1.9 0 1,0 -3.8,0M427.05,371.03a1.9,1.9 0 1,0 3.8,0a1.9,1.9 0 1,0 -3.8,0M428.07,371.54a1.9,1.9 0 1,0 3.8,0a1.9,1.9 0 1,0 -3.8,0M429.10,372.04a1.9,1.9 0 1,0 3.8,0a1.9,1.9 0 1,0 -3.8,0M430.12,372.54a1.9,1.9 0 1,0 3.8,0a1.9,1.9 0 1,0 -3.8,0M431.14,373.02a1.9,1.9 0 1,0 3.8,0a1.9,1.9 0 1,0 -3.8,0M432.17,373.51a1.9,1.9 0 1,0 3.8,0a1.9,1.9 0 1,0 -3.8,0M433.19,373.98a1.9,1.9 0 1,0 3.8,0a1.9,1.9 0 1,0 -3.8,0M434.21,374.45a1.9,1.9 0 1,0 3.8,0a1.9,1.9 0 1,0 -3.8,0M435.24,374.92a1.9,1.9 0 1,0 3.8,0a1.9,1.9 0 1,0 -3.8,0M436.26,375.38a1.9,1.9 0 1,0 3.8,0a1.9,1.9 0 1,0 -3.8,0M437.28,375.83a1.9,1.9 0 1,0 3.8,0a1.9,1.9 0 1,0 -3.8,0M438.31,376.28a1.9,1.9 0 1,0 3.8,0a1.9,1.9 0 1,0 -3.8,0M439.33,376.72a1.9,1.9 0 1,0 3.8,0a1.9,1.9 0 1,0 -3.8,0M440.35,377.15a1.9,1.9 0 1,0 3.8,0a1.9,1.9 0 1,0 -3.8,0M441.38,377.58a1.9,1.9 0 1,0 3.8,0a1.9,1.9 0 1,0 -3.8,0M442.40,378.01a1.9,1.9 0 1,0 3.8,0a1.9,1.9 0 1,0 -3.8,0M443.43,378.43a1.9,1.9 0 1,0 3.8,0a1.9,1.9 0 1,0 -3.8,0M444.45,378.84a1.9,1.9 0 1,0 3.8,0a1.9,1.9 0 1,0 -3.8,0M445.47,379.25a1.9,1.9 0 1,0 3.8,0a1.9,1.9 0 1,0 -3.8,0M446.50,379.66a1.9,1.9 0 1,0 3.8,0a1.9,1.9 0 1,0 -3.8,0M447.52,380.06a1.9,1.9 0 1,0 3.8,0a1.9,1.9 0 1,0 -3.8,0M448.54,380.45a1.9,1.9 0 1,0 3.8,0a1.9,1.9 0 1,0 -3.8,0M449.57,380.84a1.9,1.9 0 1,0 3.8,0a1.9,1.9 0 1,0 -3.8,0M450.59,381.22a1.9,1.9 0 1,0 3.8,0a1.9,1.9 0 1,0 -3.8,0M451.61,381.60a1.9,1.9 0 1,0 3.8,0a1.9,1.9 0 1,0 -3.8,0M452.64,381.98a1.9,1.9 0 1,0 3.8,0a1.9,1.9 0 1,0 -3.8,0M453.66,382.35a1.9,1.9 0 1,0 3.8,0a1.9,1.9 0 1,0 -3.8,0M454.68,382.71a1.9,1.9 0 1,0 3.8,0a1.9,1.9 0 1,0 -3.8,0M455.71,383.07a1.9,1.9 0 1,0 3.8,0a1.9,1.9 0 1,0 -3.8,0M456.73,383.43a1.9,1.9 0 1,0 3.8,0a1.9,1.9 0 1,0 -3.8,0M457.75,383.78a1.9,1.9 0 1,0 3.8,0a1.9,1.9 0 1,0 -3.8,0M458.78,384.13a1.9,1.9 0 1,0 3.8,0a1.9,1.9 0 1,0 -3.8,0M459.80,384.47a1.9,1.9 0 1,0 3.8,0a1.9,1.9 0 1,0 -3.8,0M460.82,384.81a1.9,1.9 0 1,0 3.8,0a1.9,1.9 0 1,0 -3.8,0M461.85,385.15a1.9,1.9 0 1,0 3.8,0a1.9,1.9 0 1,0 -3.8,0M462.87,385.48a1.9,1.9 0 1,0 3.8,0a1.9,1.9 0 1,0 -3.8,0M463.89,385.80a1.9,1.9 0 1,0 3.8,0a1.9,1.9 0 1,0 -3.8,0M464.92,386.13a1.9,1.9 0 1,0 3.8,0a1.9,1.9 0 1,0 -3.8,0M465.94,386.44a1.9,1.9 0 1,0 3.8,0a1.9,1.9 0 1,0 -3.8,0M466.96,386.76a1.9,1.9 0 1,0 3.8,0a1.9,1.9 0 1,0 -3.8,0M467.99,387.07a1.9,1.9 0 1,0 3.8,0a1.9,1.9 0 1,0 -3.8,0M469.01,387.37a1.9,1.9 0 1,0 3.8,0a1.9,1.9 0 1,0 -3.8,0M470.03,387.68a1.9,1.9 0 1,0 3.8,0a1.9,1.9 0 1,0 -3.8,0M471.06,387.97a1.9,1.9 0 1,0 3.8,0a1.9,1.9 0 1,0 -3.8,0M472.08,388.27a1.9,1.9 0 1,0 3.8,0a1.9,1.9 0 1,0 -3.8,0M473.11,388.56a1.9,1.9 0 1,0 3.8,0a1.9,1.9 0 1,0 -3.8,0M474.13,388.85a1.9,1.9 0 1,0 3.8,0a1.9,1.9 0 1,0 -3.8,0M475.15,389.13a1.9,1.9 0 1,0 3.8,0a1.9,1.9 0 1,0 -3.8,0M476.18,389.41a1.9,1.9 0 1,0 3.8,0a1.9,1.9 0 1,0 -3.8,0M477.20,389.69a1.9,1.9 0 1,0 3.8,0a1.9,1.9 0 1,0 -3.8,0M478.22,389.96a1.9,1.9 0 1,0 3.8,0a1.9,1.9 0 1,0 -3.8,0M479.25,390.23a1.9,1.9 0 1,0 3.8,0a1.9,1.9 0 1,0 -3.8,0M480.27,390.50a1.9,1.9 0 1,0 3.8,0a1.9,1.9 0 1,0 -3.8,0M481.29,390.76a1.9,1.9 0 1,0 3.8,0a1.9,1.9 0 1,0 -3.8,0M482.32,391.02a1.9,1.9 0 1,0 3.8,0a1.9,1.9 0 1,0 -3.8,0M483.34,391.28a1.9,1.9 0 1,0 3.8,0a1.9,1.9 0 1,0 -3.8,0M484.36,391.53a1.9,1.9 0 1,0 3.8,0a1.9,1.9 0 1,0 -3.8,0M485.39,391.78a1.9,1.9 0 1,0 3.8,0a1.9,1.9 0 1,0 -3.8,0M486.41,392.03a1.9,1.9 0 1,0 3.8,0a1.9,1.9 0 1,0 -3.8,0M487.43,392.27a1.9,1.9 0 1,0 3.8,0a1.9,1.9 0 1,0 -3.8,0M488.46,392.52a1.9,1.9 0 1,0 3.8,0a1.9,1.9 0 1,0 -3.8,0M489.48,392.75a1.9,1.9 0 1,0 3.8,0a1.9,1.9 0 1,0 -3.8,0M490.50,392.99a1.9,1.9 0 1,0 3.8,0a1.9,1.9 0 1,0 -3.8,0M491.53,393.22a1.9,1.9 0 1,0 3.8,0a1.9,1.9 0 1,0 -3.8,0M492.55,393.45a1.9,1.9 0 1,0 3.8,0a1.9,1.9 0 1,0 -3.8,0M493.57,393.68a1.9,1.9 0 1,0 3.8,0a1.9,1.9 0 1,0 -3.8,0M494.60,393.90a1.9,1.9 0 1,0 3.8,0a1.9,1.9 0 1,0 -3.8,0M495.62,394.12a1.9,1.9 0 1,0 3.8,0a1.9,1.9 0 1,0 -3.8,0M496.64,394.34a1.9,1.9 0 1,0 3.8,0a1.9,1.9 0 1,0 -3.8,0M497.67,394.55a1.9,1.9 0 1,0 3.8,0a1.9,1.9 0 1,0 -3.8,0M498.69,394.77a1.9,1.9 0 1,0 3.8,0a1.9,1.9 0 1,0 -3.8,0M499.72,394.97a1.9,1.9 0 1,0 3.8,0a1.9,1.9 0 1,0 -3.8,0M500.74,395.18a1.9,1.9 0 1,0 3.8,0a1.9,1.9 0 1,0 -3.8,0M501.76,395.39a1.9,1.9 0 1,0 3.8,0a1.9,1.9 0 1,0 -3.8,0M502.79,395.59a1.9,1.9 0 1,0 3.8,0a1.9,1.9 0 1,0 -3.8,0M503.81,395.79a1.9,1.9 0 1,0 3.8,0a1.9,1.9 0 1,0 -3.8,0M504.83,395.98a1.9,1.9 0 1,0 3.8,0a1.9,1.9 0 1,0 -3.8,0M505.86,396.18a1.9,1.9 0 1,0 3.8,0a1.9,1.9 0 1,0 -3.8,0M506.88,396.37a1.9,1.9 0 1,0 3.8,0a1.9,1.9 0 1,0 -3.8,0M507.90,396.56a1.9,1.9 0 1,0 3.8,0a1.9,1.9 0 1,0 -3.8,0M508.93,396.75a1.9,1.9 0 1,0 3.8,0a1.9,1.9 0 1,0 -3.8,0M509.95,396.93a1.9,1.9 0 1,0 3.8,0a1.9,1.9 0 1,0 -3.8,0M510.97,397.12a1.9,1.9 0 1,0 3.8,0a1.9,1.9 0 1,0 -3.8,0M512.00,397.30a1.9,1.9 0 1,0 3.8,0a1.9,1.9 0 1,0 -3.8,0M513.02,397.47a1.9,1.9 0 1,0 3.8,0a1.9,1.9 0 1,0 -3.8,0M514.04,397.65a1.9,1.9 0 1,0 3.8,0a1.9,1.9 0 1,0 -3.8,0M515.07,397.82a1.9,1.9 0 1,0 3.8,0a1.9,1.9 0 1,0 -3.8,0M516.09,398.00a1.9,1.9 0 1,0 3.8,0a1.9,1.9 0 1,0 -3.8,0M517.11,398.16a1.9,1.9 0 1,0 3.8,0a1.9,1.9 0 1,0 -3.8,0M518.14,398.33a1.9,1.9 0 1,0 3.8,0a1.9,1.9 0 1,0 -3.8,0M519.16,398.50a1.9,1.9 0 1,0 3.8,0a1.9,1.9 0 1,0 -3.8,0M520.18,398.66a1.9,1.9 0 1,0 3.8,0a1.9,1.9 0 1,0 -3.8,0M521.21,398.82a1.9,1.9 0 1,0 3.8,0a1.9,1.9 0 1,0 -3.8,0M522.23,398.98a1.9,1.9 0 1,0 3.8,0a1.9,1.9 0 1,0 -3.8,0M523.25,399.14a1.9,1.9 0 1,0 3.8,0a1.9,1.9 0 1,0 -3.8,0M524.28,399.29a1.9,1.9 0 1,0 3.8,0a1.9,1.9 0 1,0 -3.8,0M525.30,399.44a1.9,1.9 0 1,0 3.8,0a1.9,1.9 0 1,0 -3.8,0M526.32,399.60a1.9,1.9 0 1,0 3.8,0a1.9,1.9 0 1,0 -3.8,0M527.35,399.74a1.9,1.9 0 1,0 3.8,0a1.9,1.9 0 1,0 -3.8,0M528.37,399.89a1.9,1.9 0 1,0 3.8,0a1.9,1.9 0 1,0 -3.8,0M529.40,400.04a1.9,1.9 0 1,0 3.8,0a1.9,1.9 0 1,0 -3.8,0M530.42,400.18a1.9,1.9 0 1,0 3.8,0a1.9,1.9 0 1,0 -3.8,0M531.44,400.32a1.9,1.9 0 1,0 3.8,0a1.9,1.9 0 1,0 -3.8,0M532.47,400.46a1.9,1.9 0 1,0 3.8,0a1.9,1.9 0 1,0 -3.8,0M533.49,400.60a1.9,1.9 0 1,0 3.8,0a1.9,1.9 0 1,0 -3.8,0M534.51,400.74a1.9,1.9 0 1,0 3.8,0a1.9,1.9 0 1,0 -3.8,0M535.54,400.87a1.9,1.9 0 1,0 3.8,0a1.9,1.9 0 1,0 -3.8,0M536.56,401.01a1.9,1.9 0 1,0 3.8,0a1.9,1.9 0 1,0 -3.8,0M537.58,401.14a1.9,1.9 0 1,0 3.8,0a1.9,1.9 0 1,0 -3.8,0M538.61,401.27a1.9,1.9 0 1,0 3.8,0a1.9,1.9 0 1,0 -3.8,0M539.63,401.40a1.9,1.9 0 1,0 3.8,0a1.9,1.9 0 1,0 -3.8,0M540.65,401.52a1.9,1.9 0 1,0 3.8,0a1.9,1.9 0 1,0 -3.8,0M541.68,401.65a1.9,1.9 0 1,0 3.8,0a1.9,1.9 0 1,0 -3.8,0M542.70,401.77a1.9,1.9 0 1,0 3.8,0a1.9,1.9 0 1,0 -3.8,0" fill="none" stroke="#FBAD10" stroke-width="1.6" clip-path="url(#cd)"/>
<text x="308.50" y="416.50" font-family='"Liberation Sans", Arial, Helvetica, sans-serif' font-size="10.8" font-weight="bold" text-anchor="end" fill="#1c1c1c" stroke="#1c1c1c" stroke-width="0.2" >0</text>
<text x="308.50" y="382.44" font-family='"Liberation Sans", Arial, Helvetica, sans-serif' font-size="10.8" font-weight="bold" text-anchor="end" fill="#1c1c1c" stroke="#1c1c1c" stroke-width="0.2" >.2</text>
<text x="308.50" y="348.38" font-family='"Liberation Sans", Arial, Helvetica, sans-serif' font-size="10.8" font-weight="bold" text-anchor="end" fill="#1c1c1c" stroke="#1c1c1c" stroke-width="0.2" >.4</text>
<text x="308.50" y="314.32" font-family='"Liberation Sans", Arial, Helvetica, sans-serif' font-size="10.8" font-weight="bold" text-anchor="end" fill="#1c1c1c" stroke="#1c1c1c" stroke-width="0.2" >.6</text>
<text x="308.50" y="280.26" font-family='"Liberation Sans", Arial, Helvetica, sans-serif' font-size="10.8" font-weight="bold" text-anchor="end" fill="#1c1c1c" stroke="#1c1c1c" stroke-width="0.2" >.8</text>
<text x="308.50" y="246.20" font-family='"Liberation Sans", Arial, Helvetica, sans-serif' font-size="10.8" font-weight="bold" text-anchor="end" fill="#1c1c1c" stroke="#1c1c1c" stroke-width="0.2" >1</text>
<text x="313.00" y="427.20" font-family='"Liberation Sans", Arial, Helvetica, sans-serif' font-size="10" font-weight="bold" text-anchor="middle" fill="#1c1c1c" stroke="#1c1c1c" stroke-width="0.2" >0</text>
<text x="347.60" y="427.20" font-family='"Liberation Sans", Arial, Helvetica, sans-serif' font-size="10" font-weight="bold" text-anchor="middle" fill="#1c1c1c" stroke="#1c1c1c" stroke-width="0.2" >1</text>
<text x="382.20" y="427.20" font-family='"Liberation Sans", Arial, Helvetica, sans-serif' font-size="10" font-weight="bold" text-anchor="middle" fill="#1c1c1c" stroke="#1c1c1c" stroke-width="0.2" >2</text>
<text x="416.80" y="427.20" font-family='"Liberation Sans", Arial, Helvetica, sans-serif' font-size="10" font-weight="bold" text-anchor="middle" fill="#1c1c1c" stroke="#1c1c1c" stroke-width="0.2" >3</text>
<text x="451.40" y="427.20" font-family='"Liberation Sans", Arial, Helvetica, sans-serif' font-size="10" font-weight="bold" text-anchor="middle" fill="#1c1c1c" stroke="#1c1c1c" stroke-width="0.2" >4</text>
<text x="486.00" y="427.20" font-family='"Liberation Sans", Arial, Helvetica, sans-serif' font-size="10" font-weight="bold" text-anchor="middle" fill="#1c1c1c" stroke="#1c1c1c" stroke-width="0.2" >5</text>
<text x="520.60" y="427.20" font-family='"Liberation Sans", Arial, Helvetica, sans-serif' font-size="10" font-weight="bold" text-anchor="middle" fill="#1c1c1c" stroke="#1c1c1c" stroke-width="0.2" >6</text>
<text x="428.45" y="443.90" font-family='"Liberation Sans", Arial, Helvetica, sans-serif' font-size="12" font-weight="bold" text-anchor="middle" fill="#1c1c1c" stroke="#1c1c1c" stroke-width="0.2" >Time(s)</text>
<text x="544.10" y="445.50" font-family='"Liberation Sans", Arial, Helvetica, sans-serif' text-anchor="end" fill="#1c1c1c" stroke="#1c1c1c" stroke-width="0.25"><tspan font-size="14.5" dy="1.5">×</tspan><tspan font-size="11.8" dy="-1.5" dx="0.4">10</tspan><tspan dy="-5.4" font-size="8.6">-8</tspan></text>
<text x="420.00" y="456.20" font-family='"Liberation Serif", "Times New Roman", serif' font-size="13.8" font-weight="bold" text-anchor="middle" fill="#1c1c1c" stroke="#1c1c1c" stroke-width="0.2" >(d)</text>
</svg></body></html>
